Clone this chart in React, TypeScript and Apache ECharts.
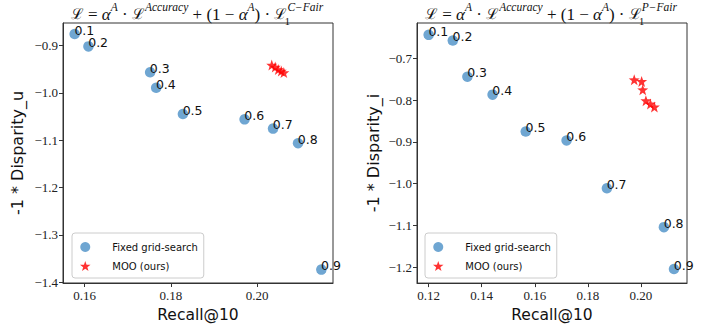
import React, { useEffect, useRef } from "react";
import * as echarts from "echarts";

// ---- data ----
const alphaLabels = ["0.1", "0.2", "0.3", "0.4", "0.5", "0.6", "0.7", "0.8", "0.9"];

// left panel (C-Fair)
const leftGridRecall = [0.1577, 0.1609, 0.1752, 0.1766, 0.1828, 0.1971, 0.2037, 0.2095, 0.2149];
const leftGridDisparity = [-0.8754, -0.9015, -0.9562, -0.989, -1.0446, -1.0558, -1.0754, -1.1063, -1.3737];
const leftMooRecall = [0.2034, 0.2042, 0.2049, 0.2056, 0.2062];
const leftMooDisparity = [-0.941, -0.9453, -0.9505, -0.9537, -0.9568];

// right panel (P-Fair)
const rightGridRecall = [0.1200, 0.1291, 0.1346, 0.1441, 0.1566, 0.1720, 0.1872, 0.2087, 0.2125];
const rightGridDisparity = [-0.6434, -0.657, -0.7437, -0.7866, -0.875, -0.8964, -1.011, -1.104, -1.2043];
const rightMooRecall = [0.1975, 0.2003, 0.2007, 0.2019, 0.2036, 0.2051];
const rightMooDisparity = [-0.7508, -0.7549, -0.7747, -0.801, -0.8088, -0.816];

// tick values
const leftXTicks = [0.16, 0.18, 0.2];
const leftYTicks = [-1.4, -1.3, -1.2, -1.1, -1.0, -0.9];
const rightXTicks = [0.12, 0.14, 0.16, 0.18, 0.2];
const rightYTicks = [-1.2, -1.1, -1.0, -0.9, -0.8, -0.7];

const seriesNames = ["Fixed grid-search", "MOO (ours)"];
const xAxisTitle = "Recall@10";
const yAxisTitles = ["-1 * Disparity_u", "-1 * Disparity_i"];
const fairTags = ["C\u2212Fair", "P\u2212Fair"];

const STAR =
  "path://M0,-10 L2.35,-3.24 L9.51,-3.09 L3.80,1.24 L5.88,8.09 L0,4 L-5.88,8.09 L-3.80,1.24 L-9.51,-3.09 L-2.35,-3.24 Z";

const zip = (a: number[], b: number[]) => a.map((v, i) => [v, b[i]]);

const tickFont = { fontFamily: "Liberation Serif", fontSize: 13, color: "#222" };
const fmtX = (v: number) => v.toFixed(2);
const fmtY = (v: number) => (v < 0 ? "\u2212" : "") + Math.abs(v).toFixed(1);

function titleText(tag: string) {
  return (
    "{L|\u2112}{b| = }{i|\u03b1}{p|A}{b| \u00b7 }{L|\u2112}{p|Accuracy}{b| + (1 \u2212 }{i|\u03b1}{p|A}{b|) \u00b7 }{L|\u2112}{s|1}{p|" +
    tag +
    "}"
  );
}

const richTitle = {
  L: { fontFamily: "DejaVu Serif", fontSize: 15, lineHeight: 26, verticalAlign: "middle", fill: "#111" },
  b: { fontFamily: "Liberation Serif", fontSize: 17, lineHeight: 26, verticalAlign: "middle", fill: "#111" },
  i: { fontFamily: "Liberation Serif", fontStyle: "italic", fontSize: 17, lineHeight: 26, verticalAlign: "middle", fill: "#111" },
  p: { fontFamily: "Liberation Serif", fontStyle: "italic", fontSize: 11.5, lineHeight: 10, verticalAlign: "top", fill: "#111" },
  s: { fontFamily: "Liberation Serif", fontSize: 10.5, lineHeight: 7, verticalAlign: "bottom", width: 0, fill: "#111" },
};

export default function App() {
  const ref = useRef<HTMLDivElement>(null);
  useEffect(() => {
    if (!ref.current) return;
    const chart = echarts.init(ref.current, undefined, { renderer: "svg" });

    const grids = [
      { left: 63, top: 23, width: 270, height: 260, show: true, borderColor: "#333", borderWidth: 1 },
      { left: 417, top: 23, width: 270, height: 261, show: true, borderColor: "#333", borderWidth: 1 },
    ];
    const xr = [
      { min: 0.155, max: 0.2176, ticks: leftXTicks },
      { min: 0.1156, max: 0.2174, ticks: rightXTicks },
    ];
    const yr = [
      { min: -1.402, max: -0.852, ticks: leftYTicks, gap: 38 },
      { min: -1.238, max: -0.615, ticks: rightYTicks, gap: 36 },
    ];

    const xAxis = xr.map((a, i) => ({
      type: "value",
      gridIndex: i,
      min: a.min,
      max: a.max,
      name: xAxisTitle,
      nameLocation: "middle",
      nameGap: 20,
      nameTextStyle: { fontFamily: "DejaVu Sans", fontSize: 15.5, color: "#111", verticalAlign: "top" },
      splitLine: { show: false },
      axisLine: { show: true, lineStyle: { color: "#333", width: 1 } },
      axisTick: { show: true, length: 4, customValues: a.ticks, lineStyle: { color: "#333" } },
      axisLabel: { ...tickFont, margin: 6, customValues: a.ticks, formatter: fmtX },
    }));
    const yAxis = yr.map((a, i) => ({
      type: "value",
      gridIndex: i,
      min: a.min,
      max: a.max,
      name: yAxisTitles[i],
      nameLocation: "middle",
      nameGap: a.gap,
      nameTextStyle: { fontFamily: "DejaVu Sans", fontSize: 16, color: "#111" },
      splitLine: { show: false },
      axisLine: { show: true, lineStyle: { color: "#333", width: 1 } },
      axisTick: { show: true, length: 4, customValues: a.ticks, lineStyle: { color: "#333" } },
      axisLabel: { ...tickFont, margin: 5, customValues: a.ticks, formatter: fmtY },
    }));

    const gridData = [zip(leftGridRecall, leftGridDisparity), zip(rightGridRecall, rightGridDisparity)];
    const mooData = [zip(leftMooRecall, leftMooDisparity), zip(rightMooRecall, rightMooDisparity)];

    const series: any[] = [];
    [0, 1].forEach((i) => {
      series.push({
        type: "scatter",
        name: seriesNames[0],
        xAxisIndex: i,
        yAxisIndex: i,
        symbol: "circle",
        symbolSize: 10.5,
        itemStyle: { color: "#6fa6d2", opacity: 1 },
        data: gridData[i],
        label: {
          show: true,
          position: [5, 8],
          align: "left",
          verticalAlign: "bottom",
          fontFamily: "DejaVu Sans",
          fontSize: 12.5,
          color: "#111",
          formatter: (p: any) => alphaLabels[p.dataIndex],
        },
        z: 2,
      });
      series.push({
        type: "scatter",
        name: seriesNames[1],
        xAxisIndex: i,
        yAxisIndex: i,
        symbol: STAR,
        symbolSize: 11,
        itemStyle: { color: "#ff0000" },
        data: mooData[i],
        z: 3,
      });
    });

    const legends = [72, 425].map((left) => ({
      left,
      top: 233,
      orient: "vertical",
      data: seriesNames,
      itemWidth: 44,
      itemHeight: 10,
      itemGap: 5,
      padding: [7, 6, 5, 8],
      borderColor: "#ccc",
      borderWidth: 1,
      borderRadius: 3,
      backgroundColor: "rgba(255,255,255,0.8)",
      textStyle: { fontFamily: "DejaVu Sans", fontSize: 10, color: "#111", lineHeight: 14 },
      selectedMode: false,
    }));

    chart.setOption({
      animation: false,
      grid: grids,
      xAxis,
      yAxis,
      series,
      legend: legends,
      graphic: [0, 1].map((i) => ({
        type: "text",
        x: grids[i].left + grids[i].width / 2 - 1,
        y: 1,
        style: { text: titleText(fairTags[i]), rich: richTitle, align: "center", verticalAlign: "top" },
      })),
    });
    return () => chart.dispose();
  }, []);
  return <div ref={ref} style={{ width: 720, height: 328, position: "absolute", left: 0, top: 0 }} />;
}
